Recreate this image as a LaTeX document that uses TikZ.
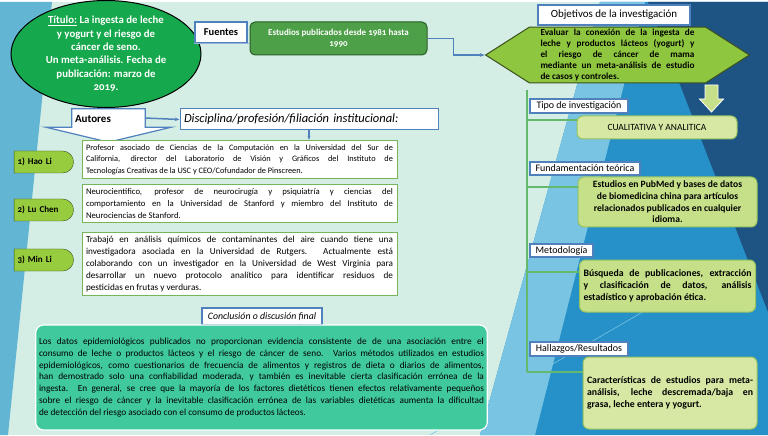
\documentclass[tikz,border=0pt]{standalone}
\usepackage{fontspec}
\setmainfont{Carlito}[Numbers=OldStyle]
\usetikzlibrary{shapes.geometric, shapes.symbols, shapes.misc, arrows.meta, positioning, calc}
\definecolor{bgmint}{RGB}{213,238,229}
\definecolor{stripblue}{RGB}{98,182,212}
\definecolor{seamid}{RGB}{38,145,200}
\definecolor{sealight}{RGB}{120,196,226}
\definecolor{seanavy}{RGB}{30,84,132}
\definecolor{titlegreen}{RGB}{22,168,76}
\definecolor{srcgreen}{RGB}{78,160,72}
\definecolor{srcdark}{RGB}{40,95,40}
\definecolor{hexlime}{RGB}{142,198,64}
\definecolor{hexdark}{RGB}{60,80,30}
\definecolor{bulletlime}{RGB}{150,204,62}
\definecolor{palelime}{RGB}{198,224,138}
\definecolor{paleyel}{RGB}{215,232,165}
\definecolor{paleedge}{RGB}{150,195,95}
\definecolor{tealbox}{RGB}{64,201,156}
\definecolor{linkblue}{RGB}{79,129,189}
\definecolor{trunkgreen}{RGB}{100,185,110}
\definecolor{txtedge}{RGB}{120,180,90}

\begin{document}
\begin{tikzpicture}[x=1pt, y=-1pt,
    tag/.style={rectangle, draw=linkblue, line width=1.2pt, fill=white,
                inner sep=1pt, font=\fontsize{10}{11}\selectfont},
    palebox/.style={rectangle, rounded corners=6pt, draw=paleedge, line width=1pt,
                    fill=palelime, inner sep=4pt, font=\fontsize{9.6}{11.7}\selectfont\bfseries},
    txtbox/.style={rectangle, draw=txtedge, line width=1pt, fill=white,
                   inner sep=4pt, text width=307pt, align=justify},
    bullet/.style={rounded rectangle, rounded rectangle west arc=none, draw=hexdark,
                   fill=bulletlime, minimum height=22pt, text width=52pt, align=left,
                   font=\fontsize{9}{10}\selectfont\bfseries},
    link/.style={draw=linkblue, line width=1.5pt, -{Stealth[length=5pt]}},
    trunk/.style={draw=trunkgreen, line width=2pt},
]

% Background
\fill[bgmint] (0,0) rectangle (768,433);
\fill[stripblue] (0,0) -- (52,0) -- (8,433) -- (0,433) -- cycle;
\fill[seamid] (600,0) -- (768,0) -- (768,433) -- (480,433) -- cycle;
\fill[sealight] (600,0) -- (645,0) -- (535,433) -- (480,433) -- cycle;
\fill[seanavy] (648,0) -- (768,0) -- (768,310) -- cycle;
\draw[sealight, line width=0.6pt] (430,433) -- (660,300);

% Title
\node[ellipse, draw=black, line width=1pt, fill=titlegreen, minimum width=190pt,
      minimum height=96pt, inner sep=0pt, text=white, align=center,
      font=\fontsize{10.8}{13.4}\selectfont\bfseries] (title) at (106,52)
      {\underline{Título:} La ingesta de leche\\ y yogurt y el riesgo de\\ cáncer de seno.\\
       Un meta-análisis. Fecha de\\ publicación: marzo de\\ 2019.};

% Sources
\node[tag, font=\fontsize{10.5}{11}\selectfont\bfseries, minimum width=52pt,
      minimum height=21pt] (fuentes) at (221,30.5) {Fuentes};
\node[rectangle, rounded corners=5pt, draw=srcdark, line width=1pt, fill=srcgreen,
      minimum width=177pt, minimum height=33pt, text=white, align=center,
      font=\fontsize{9}{11}\selectfont\bfseries] (src) at (338.5,36.5)
      {Estudios publicados desde 1981 hasta\\ 1990};

% Objectives
\node[tag, font=\fontsize{11}{12}\selectfont, minimum width=152pt,
      minimum height=20pt] (objtag) at (614,13) {Objetivos de la investigación};
\node[signal, signal to=west and east, signal pointer angle=65, draw=hexdark,
      line width=1pt, fill=hexlime, text width=154pt, inner xsep=11pt, inner ysep=2pt,
      align=justify, font=\fontsize{9.2}{11}\selectfont\bfseries] (obj) at (617.5,53)
      {Evaluar la conexión de la ingesta de\linebreak leche y productos lácteos (yogurt) y\linebreak
       el riesgo de cáncer de mama\linebreak mediante un meta-análisis de estudio\linebreak
       de casos y controles.};
% Down arrow
\coordinate (down) at (711.5,83);
\draw[white, line width=0.8pt, fill=palelime]
    ([xshift=-6.5pt]down) -- ++(0,14) -- ++(-5.5,0) -- ++(12,13) -- ++(12,-13)
    -- ++(-5.5,0) -- ([xshift=6.5pt]down) -- cycle;

% Research tree
\coordinate (trunktop) at (527,88);
\coordinate (trunkbot) at (527,370);
\node[tag, minimum width=98pt, minimum height=14pt] (tipo) at (579,104) {Tipo de investigación};
\node[palebox, fill=paleyel, minimum width=160pt, minimum height=23pt,
      font=\fontsize{9.5}{11}\selectfont] (cual) at (657,125.5) {CUALITATIVA Y ANALITICA};
\node[tag, minimum width=110pt, minimum height=13pt] (fund) at (585,166.5) {Fundamentación teórica};
\node[palebox, minimum width=179pt, minimum height=50pt, align=center] (pubmed) at (667.5,200)
      {Estudios en PubMed y bases de datos\\ de biomedicina china para artículos\\
       relacionados publicados en cualquier\\ idioma.};
\node[tag, minimum width=63pt, minimum height=13pt] (met) at (561.5,248.5) {Metodología};
\node[palebox, text width=168pt, minimum height=52pt, align=justify,
      font=\fontsize{9.8}{12}\selectfont\bfseries] (busq) at (667.5,284)
      {Búsqueda de publicaciones, extracción\linebreak y clasificación de datos, análisis\linebreak
       estadístico y aprobación ética.};
\node[tag, minimum width=98pt, minimum height=14pt] (hall) at (579,347) {Hallazgos/Resultados};
\node[palebox, fill=paleyel, text width=166pt, minimum height=72pt, align=justify,
      font=\fontsize{9.8}{12}\selectfont\bfseries] (carac) at (670,391)
      {Características de estudios para meta-\linebreak análisis, leche descremada/baja en\linebreak
       grasa, leche entera y yogurt.};

\draw[trunk] (trunktop) -- (trunkbot);
\path ([yshift=7pt]cual.west) coordinate (b1);
\path ([yshift=15pt]pubmed.west) coordinate (b2);
\path ([yshift=14pt]busq.west) coordinate (b3);
\path ([yshift=21pt]carac.west) coordinate (b4);
\foreach \b in {b1,b2,b3,b4}
    \draw[trunk] (trunktop |- \b) -- (\b);

% Authors
\node[rectangle, minimum width=73pt, minimum height=18pt] (autores) at (108.5,116) {};
\draw[linkblue, line width=1.2pt, fill=white]
    (autores.north west) -- (autores.north east) -- (autores.south east)
    -- ++(26,0) -- ([yshift=-15pt]autores.south) -- ([xshift=-26pt]autores.south west)
    -- (autores.south west) -- cycle;
\node[anchor=west, inner sep=0pt, font=\fontsize{11}{12}\selectfont\bfseries]
      (autlabel) at ([xshift=3pt,yshift=-1pt]autores.west) {Autores};
\node[tag, line width=1pt, minimum width=258pt, minimum height=21pt, text width=250pt,
      font=\fontsize{12.5}{13}\selectfont\itshape] (disc) at (309,117.5)
      {Disciplina/profesión/filiación institucional:};

\node[txtbox, font=\fontsize{8.3}{11.5}\selectfont] (haotxt) at (239.5,157.5)
      {Profesor asociado de Ciencias de la Computación en la Universidad del Sur de\linebreak
       California, director del Laboratorio de Visión y Gráficos del Instituto de\linebreak
       Tecnologías Creativas de la USC y CEO/Cofundador de Pinscreen.};
\node[txtbox, font=\fontsize{8.7}{12.3}\selectfont] (lutxt) at (239.5,201.5)
      {Neurocientífico, profesor de neurocirugía y psiquiatría y ciencias del\linebreak
       comportamiento en la Universidad de Stanford y miembro del Instituto de\linebreak
       Neurociencias de Stanford.};
\node[txtbox, font=\fontsize{9.2}{12}\selectfont] (mintxt) at (239.5,262)
      {Trabajó en análisis químicos de contaminantes del aire cuando tiene una\linebreak
       investigadora asociada en la Universidad de Rutgers. Actualmente está\linebreak
       colaborando con un investigador en la Universidad de West Virginia para\linebreak
       desarrollar un nuevo protocolo analítico para identificar residuos de\linebreak
       pesticidas en frutas y verduras.};

\node[bullet] (hao) at (43.5,160) {1) Hao Li};
\node[bullet] (lu) at (43.5,208) {2) Lu Chen};
\node[bullet] (min) at (43.5,258) {3) Min Li};

% Conclusion
\node[tag, minimum width=120pt, minimum height=17pt,
      font=\fontsize{9.8}{11}\selectfont\itshape] (concltag) at (262,314.5)
      {Conclusión o discusión final};
\node[rectangle, rounded corners=8pt, draw=white, line width=1.2pt, fill=tealbox,
      text width=445pt, minimum height=105pt, align=justify,
      font=\fontsize{9.3}{11.7}\selectfont] (concl) at (261.5,375.5)
      {Los datos epidemiológicos publicados no proporcionan evidencia consistente de de una asociación entre el\linebreak
       consumo de leche o productos lácteos y el riesgo de cáncer de seno. Varios métodos utilizados en estudios\linebreak
       epidemiológicos, como cuestionarios de frecuencia de alimentos y registros de dieta o diarios de alimentos,\linebreak
       han demostrado solo una confiabilidad moderada, y también es inevitable cierta clasificación errónea de la\linebreak
       ingesta. En general, se cree que la mayoría de los factores dietéticos tienen efectos relativamente pequeños\linebreak
       sobre el riesgo de cáncer y la inevitable clasificación errónea de las variables dietéticas aumenta la dificultad\linebreak
       de detección del riesgo asociado con el consumo de productos lácteos.};

% Connectors
\draw[linkblue!60, line width=1.5pt] (fuentes.south west) -- (fuentes.south west -| src.west);
\draw[link] (src.east) -- ++(26,0) |- (obj.west);
\draw[link] (autores.east) -- (disc.west);
\draw[link, line width=2pt, -{Stealth[length=4pt]}] (disc.south) -- (disc.south |- haotxt.north);

\end{tikzpicture}
\end{document}
